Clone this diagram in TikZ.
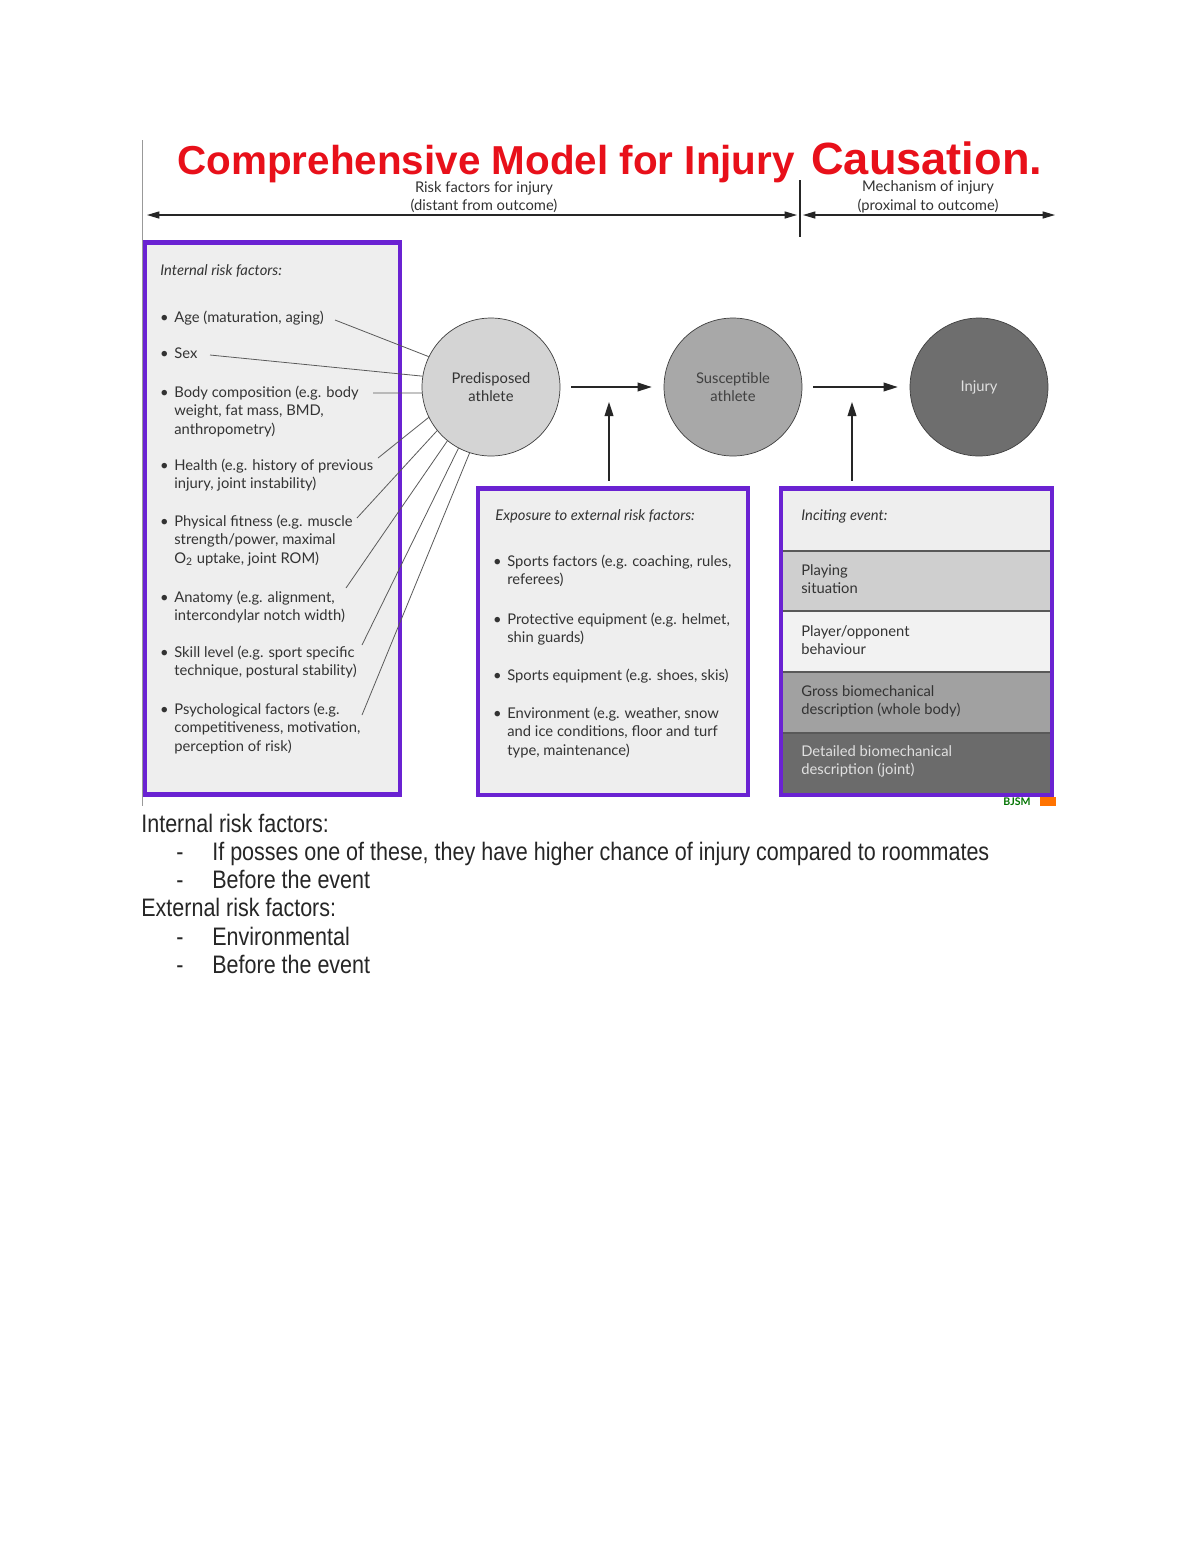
\documentclass[tikz,border=0pt]{standalone}
\usepackage{fontspec}
\setmainfont{Lato}
\newfontfamily\titlefont{Liberation Sans}
\newfontfamily\notefont[FakeStretch=0.85]{Liberation Sans}
\usetikzlibrary{arrows.meta, positioning, calc}
\definecolor{panelline}{HTML}{6A22D2}
\definecolor{panelfill}{HTML}{EEEEEE}
\definecolor{txt}{HTML}{333333}
\definecolor{titlered}{HTML}{E8101A}
\definecolor{circA}{HTML}{D4D4D4}
\definecolor{circB}{HTML}{A8A8A8}
\definecolor{circC}{HTML}{6E6E6E}
\newcommand{\diagfont}{\fontsize{8.4}{10.5}\selectfont}
\newcommand{\bul}{\llap{\textbullet\hspace{3.2pt}}}

\begin{document}
\begin{tikzpicture}[x=0.02cm, y=-0.02cm,
    panel/.style={rectangle, draw=panelline, line width=2.8pt, inner sep=0},
    item/.style={anchor=base west, align=left, inner sep=0, font=\diagfont, text=txt},
    head/.style={item, font=\diagfont\itshape},
    phase/.style={circle, draw=black!75, thin, minimum size=2.76cm, inner sep=0,
                  align=center, font=\diagfont},
    spoke/.style={black!65, line width=0.45pt},
    arr/.style={-{Triangle[length=8pt, width=5pt]}, line width=0.8pt, black!85},
    harr/.style={{Triangle[length=7pt, width=4pt]}-{Triangle[length=7pt, width=4pt]},
                 line width=0.6pt, black!85},
    note/.style={anchor=base west, inner sep=0, font=\notefont\fontsize{14.4}{16}\selectfont,
                 text=black!85}
]
\useasboundingbox[fill=white] (0,0) rectangle (1200,1553);

% frame edge and title
\draw[black!40, line width=0.5pt] (142,140) -- (142,806);
\node[anchor=base west, inner sep=0, text=titlered,
      font=\titlefont\bfseries\fontsize{23}{23}\selectfont] (title) at (177,174)
  {Comprehensive Model for Injury\hspace{3pt} {\fontsize{25.7}{26}\selectfont Causation.}};

% time axis
\coordinate (axl) at (147,215);
\coordinate (axm) at (800,215);
\coordinate (axr) at (1055,215);
\draw[harr] (axl) -- (axm) [shorten >=0.06cm];
\draw[harr] (axm) -- (axr) [shorten <=0.06cm];
\draw[black!85, line width=0.6pt] (axm) ++(0,-35) -- ++(0,57);
\node[align=center, inner sep=0, font=\diagfont, text=txt] (riskhd) at (484,197)
  {Risk factors for injury\\(distant from outcome)};
\node[align=center, inner sep=0, font=\diagfont, text=txt] (mechhd) at (928,197)
  {Mechanism of injury\\(proximal to outcome)};

% journal mark
\node[inner sep=0, font=\fontsize{6}{6}\selectfont\bfseries, text=green!45!black] (logo) at (1017,802) {BJSM};
\fill[orange!90!red] (1040,797) rectangle (1056,806);

% panels
\node[panel, fill=panelfill, minimum width=5.1cm, minimum height=11.06cm] (intbox) at (272.5,518.5) {};
\node[panel, fill=panelfill, minimum width=5.4cm, minimum height=6.14cm] (extbox) at (613,641.5) {};
\fill[panelfill] (783,490) rectangle (1050,551);
\fill[black!19] (783,551) rectangle (1050,611);
\fill[black!5] (783,611) rectangle (1050,672);
\fill[black!37] (783,672) rectangle (1050,733);
\fill[black!58] (783,733) rectangle (1050,793);
\foreach \yy in {551,611,672,733}
  \draw[black!65, line width=0.6pt] (783,\yy) -- (1050,\yy);
\node[panel, minimum width=5.42cm, minimum height=6.14cm] (incbox) at (916.5,641.5) {};

% internal risk factors (base = last line)
\node[head] (inthd) at (160,275) {Internal risk factors:};
\node[item] (age) at (174,322) {\bul Age (maturation, aging)};
\node[item] (sex) at (174,358) {\bul Sex};
\node[item] (body) at (174,434) {\bul Body composition (e.g. body\\weight, fat mass, BMD,\\anthropometry)};
\node[item] (health) at (174,488.5) {\bul Health (e.g. history of previous\\injury, joint instability)};
\node[item] (fitness) at (174,563) {\bul Physical fitness (e.g. muscle\\strength/power, maximal\\O\textsubscript{2} uptake, joint ROM)};
\node[item] (anatomy) at (174,620.5) {\bul Anatomy (e.g. alignment,\\intercondylar notch width)};
\node[item] (skill) at (174,675.5) {\bul Skill level (e.g. sport specific\\technique, postural stability)};
\node[item] (psych) at (174,751) {\bul Psychological factors (e.g.\\competitiveness, motivation,\\perception of risk)};

% external risk factors
\node[head] (exthd) at (495,520) {Exposure to external risk factors:};
\node[item] (sports) at (507,584.5) {\bul Sports factors (e.g. coaching, rules,\\referees)};
\node[item] (protect) at (507,642.5) {\bul Protective equipment (e.g. helmet,\\shin guards)};
\node[item] (equip) at (507,680) {\bul Sports equipment (e.g. shoes, skis)};
\node[item] (environ) at (507,755) {\bul Environment (e.g. weather, snow\\and ice conditions, floor and turf\\type, maintenance)};

% inciting event
\node[head] (inchd) at (801,520) {Inciting event:};
\node[item] (playing) at (801,593.5) {Playing\\situation};
\node[item] (player) at (801,654.5) {Player/opponent\\behaviour};
\node[item] (gross) at (801,714.5) {Gross biomechanical\\description (whole body)};
\node[item, text=black!12] (detail) at (801,774.5) {Detailed biomechanical\\description (joint)};

% athlete states
\node[phase, fill=circA, text=txt] (pre) at (491,387) {Predisposed\\athlete};
\node[phase, fill=circB, text=black!75] (sus) at (733,387) {Susceptible\\athlete};
\node[phase, fill=circC, text=black!12] (inj) at (979,387) {Injury};

% spokes into predisposed athlete
\coordinate (age-e) at (335,320);
\coordinate (sex-e) at (210,355);
\coordinate (body-e) at (373,393);
\coordinate (health-e) at (378,458);
\coordinate (fitness-e) at (357,518);
\coordinate (anatomy-e) at (346,588);
\coordinate (skill-e) at (362,645);
\coordinate (psych-e) at (362,715);
\draw[spoke] (age-e) -- (pre.154);
\draw[spoke] (sex-e) -- (pre.171);
\draw[spoke] (body-e) -- (pre.185);
\draw[spoke] (health-e) -- (pre.206);
\draw[spoke] (fitness-e) -- (pre.219);
\draw[spoke] (anatomy-e) -- (pre.231);
\draw[spoke] (skill-e) -- (pre.242);
\draw[spoke] (psych-e) -- (pre.252);

% flow
\draw[arr, shorten <=0.22cm, shorten >=0.24cm] (pre) -- (sus);
\draw[arr, shorten <=0.22cm, shorten >=0.24cm] (sus) -- (inj);
\coordinate (exttip) at (609,402);
\coordinate (inctip) at (852,402);
\draw[arr, shorten <=0.1cm] (extbox.north -| exttip) -- (exttip);
\draw[arr, shorten <=0.1cm] (incbox.north -| inctip) -- (inctip);

% notes below
\node[note] (n1) at (141,832) {Internal risk factors:};
\node[note] (n2) at (212,860) {If posses one of these, they have higher chance of injury compared to roommates};
\node[note] (n3) at (212,888) {Before the event};
\node[note] (n4) at (141,916) {External risk factors:};
\node[note] (n5) at (212,945) {Environmental};
\node[note] (n6) at (212,973) {Before the event};
\foreach \yy/\nn in {860/d2, 888/d3, 945/d5, 973/d6}
  \node[note] (\nn) at (176,\yy) {-};
\end{tikzpicture}
\end{document}
